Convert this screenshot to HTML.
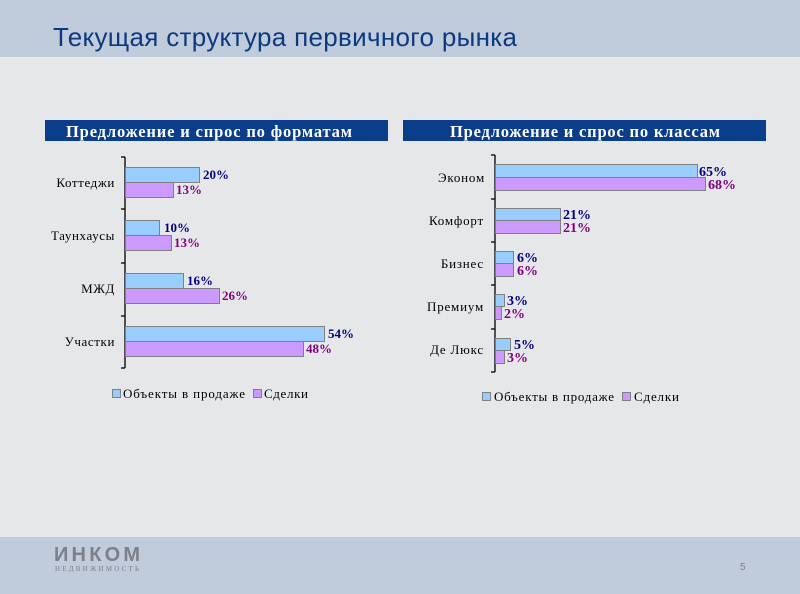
<!DOCTYPE html>
<html><head><meta charset="utf-8"><style>
html,body{margin:0;padding:0;width:800px;height:594px;overflow:hidden;background:#e6e7e9}
svg{display:block}
</style></head><body>
<svg width="800" height="594" xmlns="http://www.w3.org/2000/svg">
<rect x="0" y="0" width="800" height="594" fill="#e6e7e9"/>
<rect x="0" y="0" width="800" height="57" fill="#c0cbdc"/>
<rect x="0" y="537" width="800" height="57" fill="#c0cbdc"/>
<text x="53" y="46" font-family="Liberation Sans, sans-serif" font-size="26" fill="#0c3a80" textLength="464">Текущая структура первичного рынка</text>

<rect x="45" y="120" width="343" height="21" fill="#0a3d8a"/>
<text x="66" y="137" font-family="Liberation Serif, serif" font-weight="bold" font-size="16.5" fill="#fff" textLength="286">Предложение и спрос по форматам</text>
<rect x="403" y="120" width="363" height="21" fill="#0a3d8a"/>
<text x="450" y="137" font-family="Liberation Serif, serif" font-weight="bold" font-size="16.5" fill="#fff" textLength="270">Предложение и спрос по классам</text>

<g font-family="Liberation Serif, serif" font-size="13">
<!-- left chart -->
<g stroke="#000" stroke-width="1.3">
<line x1="125" y1="157" x2="125" y2="368"/>
<line x1="121" y1="157" x2="125" y2="157"/><line x1="121" y1="209" x2="125" y2="209"/>
<line x1="121" y1="263" x2="125" y2="263"/><line x1="121" y1="316" x2="125" y2="316"/>
<line x1="121" y1="368" x2="125" y2="368"/>
</g>
<g stroke="#808080" stroke-width="1">
<rect x="125.5" y="167.5" width="74" height="15" fill="#99ccff"/>
<rect x="125.5" y="182.5" width="48" height="15" fill="#cc99ff"/>
<rect x="125.5" y="220.5" width="34" height="15" fill="#99ccff"/>
<rect x="125.5" y="235.5" width="46" height="15" fill="#cc99ff"/>
<rect x="125.5" y="273.5" width="58" height="15" fill="#99ccff"/>
<rect x="125.5" y="288.5" width="94" height="15" fill="#cc99ff"/>
<rect x="125.5" y="326.5" width="199" height="15" fill="#99ccff"/>
<rect x="125.5" y="341.5" width="178" height="15" fill="#cc99ff"/>
</g>
<g text-anchor="end" fill="#000" letter-spacing="0.6">
<text x="115" y="187">Коттеджи</text>
<text x="115" y="240">Таунхаусы</text>
<text x="115" y="293">МЖД</text>
<text x="115" y="346">Участки</text>
</g>
<g font-weight="bold" font-size="13">
<text x="203" y="179" fill="#000080">20%</text>
<text x="176" y="194" fill="#800080">13%</text>
<text x="164" y="232" fill="#000080">10%</text>
<text x="174" y="247" fill="#800080">13%</text>
<text x="187" y="285" fill="#000080">16%</text>
<text x="222" y="300" fill="#800080">26%</text>
<text x="328" y="338" fill="#000080">54%</text>
<text x="306" y="353" fill="#800080">48%</text>
</g>
<rect x="112.5" y="389.5" width="8" height="8" fill="#99ccff" stroke="#808080"/>
<text x="123" y="398" textLength="122">Объекты в продаже</text>
<rect x="253.5" y="389.5" width="8" height="8" fill="#cc99ff" stroke="#808080"/>
<text x="264" y="398" textLength="44">Сделки</text>

<!-- right chart -->
<g stroke="#000" stroke-width="1.3">
<line x1="495" y1="155" x2="495" y2="372"/>
<line x1="491" y1="155" x2="495" y2="155"/><line x1="491" y1="199" x2="495" y2="199"/>
<line x1="491" y1="242" x2="495" y2="242"/><line x1="491" y1="285" x2="495" y2="285"/>
<line x1="491" y1="329" x2="495" y2="329"/><line x1="491" y1="372" x2="495" y2="372"/>
</g>
<g stroke="#808080" stroke-width="1">
<rect x="495.5" y="164.5" width="202" height="13" fill="#99ccff"/>
<rect x="495.5" y="177.5" width="210" height="13" fill="#cc99ff"/>
<rect x="495.5" y="208.5" width="65" height="12" fill="#99ccff"/>
<rect x="495.5" y="220.5" width="65" height="13" fill="#cc99ff"/>
<rect x="495.5" y="251.5" width="18" height="12" fill="#99ccff"/>
<rect x="495.5" y="263.5" width="18" height="13" fill="#cc99ff"/>
<rect x="495.5" y="294.5" width="9" height="12" fill="#99ccff"/>
<rect x="495.5" y="306.5" width="6" height="13" fill="#cc99ff"/>
<rect x="495.5" y="338.5" width="15" height="12" fill="#99ccff"/>
<rect x="495.5" y="350.5" width="9" height="13" fill="#cc99ff"/>
</g>
<g text-anchor="end" fill="#000" letter-spacing="0.8">
<text x="485" y="182">Эконом</text>
<text x="484" y="225">Комфорт</text>
<text x="484" y="268">Бизнес</text>
<text x="484" y="311">Премиум</text>
<text x="484" y="354">Де Люкс</text>
</g>
<g font-weight="bold" font-size="14">
<text x="699" y="176" fill="#000080">65%</text>
<text x="708" y="189" fill="#800080">68%</text>
<text x="563" y="219" fill="#000080">21%</text>
<text x="563" y="232" fill="#800080">21%</text>
<text x="517" y="262" fill="#000080">6%</text>
<text x="517" y="275" fill="#800080">6%</text>
<text x="507" y="305" fill="#000080">3%</text>
<text x="504" y="318" fill="#800080">2%</text>
<text x="514" y="349" fill="#000080">5%</text>
<text x="507" y="362" fill="#800080">3%</text>
</g>
<rect x="482.5" y="392.5" width="8" height="8" fill="#99ccff" stroke="#808080"/>
<text x="494" y="401" textLength="120">Объекты в продаже</text>
<rect x="622.5" y="392.5" width="8" height="8" fill="#cc99ff" stroke="#808080"/>
<text x="634" y="401" textLength="45">Сделки</text>
</g>

<text x="54" y="561" font-family="Liberation Sans, sans-serif" font-weight="bold" font-size="20" fill="#7d8088" textLength="86">ИНКОМ</text>
<text x="55" y="571" font-family="Liberation Serif, serif" font-size="7" fill="#7d8088" textLength="84">НЕДВИЖИМОСТЬ</text>
<text x="740" y="570" font-family="Liberation Sans, sans-serif" font-size="10" fill="#7d8088">5</text>
</svg>
</body></html>
